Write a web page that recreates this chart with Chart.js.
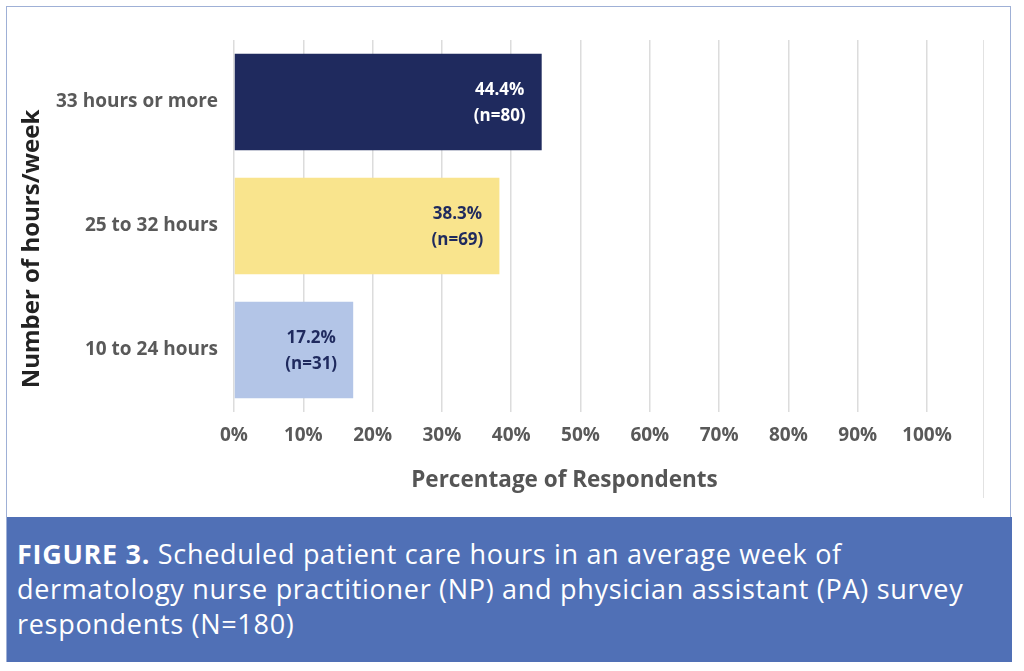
<!DOCTYPE html>
<html>
<head>
<meta charset="utf-8">
<script src="https://cdn.jsdelivr.net/npm/chart.js@4.4.1/dist/chart.umd.min.js"></script>
<style>
  html, body { margin: 0; padding: 0; background: #fff; }
  body { width: 1024px; height: 671px; position: relative; overflow: hidden; font-family: "Open Sans", sans-serif; }
  #frame { position: absolute; left: 6px; top: 6px; width: 1005px; height: 656px; border: 1px solid #9fb0d6; box-sizing: border-box; }
  #wrap { position: absolute; left: 8px; top: 7px; width: 1004px; height: 510px; }
  #edge { position: absolute; left: 983px; top: 40px; width: 0; height: 458px; border-left: 1px solid #e2e2e2; }
  #caption { position: absolute; left: 7px; top: 517px; width: 1005px; height: 145px; background: #5070b6; color: #fff; box-sizing: border-box; padding: 19px 0 0 10px; font-size: 27px; line-height: 35px; letter-spacing: 0.7px; }
  #caption b { font-weight: 700; }
</style>
</head>
<body>
<div id="frame"></div>
<div id="edge"></div>
<div id="wrap"><canvas id="chart" width="1004" height="510"></canvas></div>
<div id="caption"><b>FIGURE 3.</b> Scheduled patient care hours in an average week of<br>dermatology nurse practitioner (NP) and physician assistant (PA) survey<br>respondents (N=180)</div>
<script>
const categories = ["33 hours or more", "25 to 32 hours", "10 to 24 hours"];
const percents = [44.4, 38.3, 17.2];
const counts = [80, 69, 31];
const barColors = ["#1f2a5e", "#f9e48d", "#b3c5e7"];
const labelColors = ["#ffffff", "#1f2a5e", "#1f2a5e"];

const xTitle = "Percentage of Respondents";
const yTitle = "Number of hours/week";

// Two-line value labels near the end of each bar, plus the axis titles
const barLabels = {
  id: "barLabels",
  afterDatasetsDraw(chart) {
    const { ctx, chartArea } = chart;
    const meta = chart.getDatasetMeta(0);
    ctx.save();
    ctx.font = "bold 17px 'Open Sans'";
    ctx.textAlign = "center";
    ctx.textBaseline = "middle";
    meta.data.forEach((bar, i) => {
      const x = bar.x - 42;
      ctx.fillStyle = labelColors[i];
      ctx.fillText(`${percents[i]}%`, x, bar.y - 12);
      ctx.fillText(`(n=${counts[i]})`, x, bar.y + 14);
    });

    // x title
    ctx.fillStyle = "#555555";
    ctx.font = "bold 22.5px 'Open Sans'";
    ctx.fillText(xTitle, (chartArea.left + chartArea.right) / 2 - 16, chartArea.bottom + 69);

    // y title
    ctx.fillStyle = "#222222";
    ctx.font = "bold 24px 'Open Sans'";
    ctx.translate(24, (chartArea.top + chartArea.bottom) / 2 + 23);
    ctx.rotate(-Math.PI / 2);
    ctx.fillText(yTitle, 0, 0);
    ctx.restore();
  },
};

new Chart(document.getElementById("chart"), {
  type: "bar",
  data: {
    labels: categories,
    datasets: [{
      data: percents,
      backgroundColor: barColors,
      borderWidth: 0,
      barPercentage: 0.78,
      categoryPercentage: 1,
    }],
  },
  options: {
    indexAxis: "y",
    responsive: false,
    animation: false,
    layout: { padding: { top: 33, right: 85, bottom: 0, left: 0 } },
    plugins: { legend: { display: false }, tooltip: { enabled: false } },
    scales: {
      x: {
        min: 0,
        max: 100,
        afterFit: (s) => { s.height = 105; },
        grid: { color: "#dcdcdc", lineWidth: 1.5, drawTicks: false },
        border: { display: false },
        ticks: {
          stepSize: 10,
          padding: 12,
          color: "#595959",
          font: { family: "Open Sans", size: 19, weight: "bold" },
          callback: (v) => `${v}%`,
        },
      },
      y: {
        afterFit: (s) => { s.width = 226; },
        grid: { display: false, drawTicks: false },
        border: { display: false },
        ticks: {
          padding: 16,
          color: "#595959",
          font: { family: "Open Sans", size: 19, weight: "bold" },
        },
      },
    },
  },
  plugins: [barLabels],
});
</script>
</body>
</html>
